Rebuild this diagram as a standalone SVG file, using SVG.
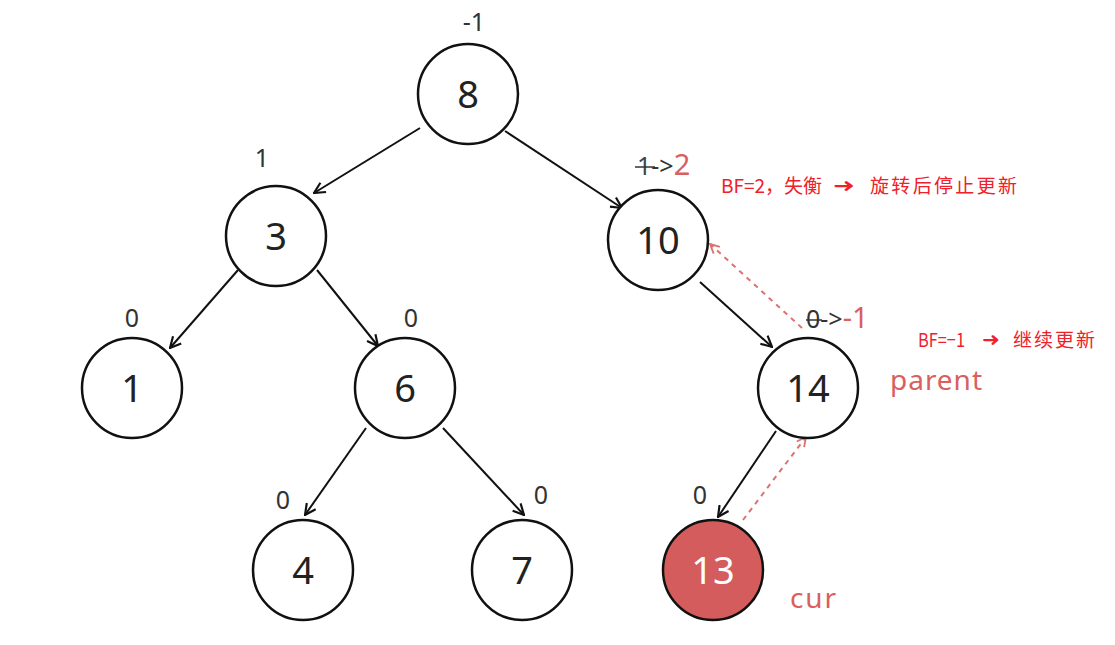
<svg xmlns="http://www.w3.org/2000/svg" width="1115" height="645" viewBox="0 0 1115 645">
<defs>
<style>
.node circle{fill:#fff;stroke:#111;stroke-width:2.5}
.node text{font-family:"Noto Sans","DejaVu Sans",sans-serif;font-size:38px;fill:#222;text-anchor:middle}
.bf{font-family:"Noto Sans","DejaVu Sans",sans-serif;font-size:25px;fill:#333;text-anchor:middle}
.red{fill:#d9605e}
.note{font-family:"Noto Sans CJK SC",sans-serif;font-size:19px;fill:#f0202a}
.edge{stroke:#111;stroke-width:2;fill:none;marker-end:url(#ah)}
.back{stroke:#e07070;stroke-width:2;stroke-dasharray:5 5;fill:none;marker-end:url(#ahr)}
.lbl{font-family:"Noto Sans",sans-serif;font-size:28px;fill:#d9605e}
</style>
<marker id="ah" viewBox="0 0 12 12" refX="11" refY="6" markerWidth="13" markerHeight="13" markerUnits="userSpaceOnUse" orient="auto"><path d="M1 1 L11 6 L1 11" fill="none" stroke="#111" stroke-width="2"/></marker>
<marker id="ahr" viewBox="0 0 12 12" refX="11" refY="6" markerWidth="11" markerHeight="11" markerUnits="userSpaceOnUse" orient="auto"><path d="M1 1 L11 6 L1 11" fill="none" stroke="#e07070" stroke-width="2"/></marker>
</defs>
<rect width="1115" height="645" fill="#fff"/>
<g id="connectors">
<line class="edge" x1="420" y1="128" x2="314" y2="193"/>
<line class="edge" x1="505" y1="131" x2="622" y2="208"/>
<line class="edge" x1="238" y1="270" x2="170" y2="348"/>
<line class="edge" x1="317" y1="270" x2="378" y2="346"/>
<line class="edge" x1="700" y1="282" x2="772" y2="347"/>
<line class="edge" x1="366" y1="428" x2="305" y2="515"/>
<line class="edge" x1="443" y1="428" x2="524" y2="515"/>
<line class="edge" x1="776" y1="431" x2="718" y2="517"/>
<line class="back" x1="802" y1="328" x2="710" y2="244"/>
<line class="back" x1="743" y1="520" x2="806" y2="437"/>
</g>
<g id="n8" class="node"><circle cx="468" cy="94" r="50"/><text x="468" y="108">8</text></g>
<g id="n3" class="node"><circle cx="276" cy="236" r="50"/><text x="276" y="250">3</text></g>
<g id="n10" class="node"><circle cx="658" cy="240" r="50"/><text x="658" y="254">10</text></g>
<g id="n1" class="node"><circle cx="132" cy="388" r="50"/><text x="132" y="402">1</text></g>
<g id="n6" class="node"><circle cx="405" cy="388" r="50"/><text x="405" y="402">6</text></g>
<g id="n14" class="node"><circle cx="808" cy="388" r="50"/><text x="808" y="402">14</text></g>
<g id="n4" class="node"><circle cx="303" cy="570" r="50"/><text x="303" y="584">4</text></g>
<g id="n7" class="node"><circle cx="522" cy="570" r="50"/><text x="522" y="584">7</text></g>
<g id="n13" class="node"><circle cx="713" cy="570" r="50" style="fill:#d45c5c"/><text x="713" y="584" style="fill:#fff">13</text></g>
<g id="labels">
<text class="bf" x="474" y="31">-1</text>
<text class="bf" x="262" y="167">1</text>
<text class="bf" x="132" y="327">0</text>
<text class="bf" x="411" y="327">0</text>
<text class="bf" x="283" y="509">0</text>
<text class="bf" x="541" y="504">0</text>
<text class="bf" x="700" y="504">0</text>
<text class="bf" x="637" y="175" style="text-anchor:start"><tspan fill="#444">1</tspan><tspan>-&gt;</tspan><tspan class="red" font-size="29">2</tspan></text>
<line x1="635" y1="167" x2="655" y2="167" stroke="#333" stroke-width="1.5"/>
<text class="bf" x="806" y="328" style="text-anchor:start"><tspan>0</tspan><tspan>-&gt;</tspan><tspan class="red" font-size="29">-1</tspan></text>
<line x1="806" y1="320" x2="822" y2="320" stroke="#333" stroke-width="1.5"/>
<text class="lbl" x="890" y="390" textLength="92">parent</text>
<text class="lbl" x="790" y="608" textLength="46">cur</text>
<g id="note1" class="note">
<text x="721" y="193">BF=2，失衡</text>
<text x="833" y="192" textLength="22" lengthAdjust="spacingAndGlyphs">➜</text>
<text x="870" y="193" textLength="147">旋转后停止更新</text>
</g>
<g id="note2" class="note">
<text x="918" y="347" textLength="47" lengthAdjust="spacingAndGlyphs">BF=−1</text>
<text x="982" y="346" textLength="18" lengthAdjust="spacingAndGlyphs">➜</text>
<text x="1013" y="347" textLength="82">继续更新</text>
</g>
</g>
</svg>
